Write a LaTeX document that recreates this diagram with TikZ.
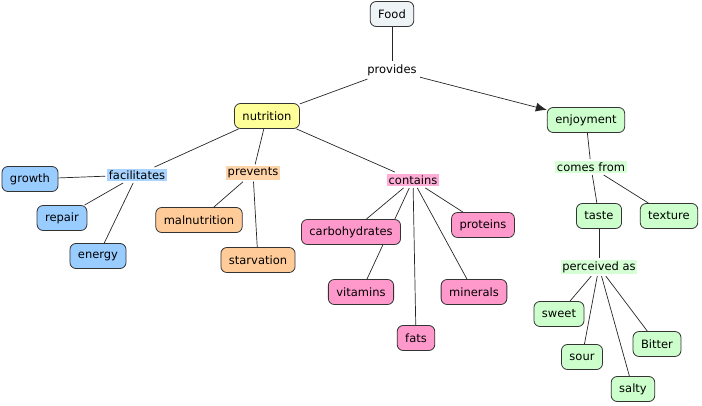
\documentclass[tikz,border=0pt]{standalone}
\usepackage{fontspec}
\setmainfont{DejaVu Sans}
\usetikzlibrary{backgrounds,arrows.meta}

\definecolor{foodgray}{HTML}{EEF3F5}
\definecolor{nutyellow}{HTML}{FFFF99}
\definecolor{factblue}{HTML}{99CCFF}
\definecolor{prevorange}{HTML}{FFCC99}
\definecolor{contpink}{HTML}{FF99CC}
\definecolor{joygreen}{HTML}{CCFFCC}

\tikzset{
  concept/.style={draw=black!80, rounded corners=6pt, inner xsep=8pt,
    minimum height=25pt, line width=0.8pt},
  linkword/.style={inner sep=1.5pt, outer sep=2pt},
  conn/.style={draw=black!85, line width=0.7pt}
}

\begin{document}
\begin{tikzpicture}[x=1pt, y=-1pt, font=\fontsize{11.5}{13}\selectfont]
  \useasboundingbox (0,0) rectangle (702,406);

  % concepts
  \node[concept, fill=foodgray] (food) at (392,14) {Food};
  \node[concept, fill=nutyellow] (nutrition) at (267,116) {nutrition};
  \node[concept, fill=joygreen] (enjoyment) at (586,120) {enjoyment};

  \node[concept, fill=factblue] (growth) at (30,179) {growth};
  \node[concept, fill=factblue] (repair) at (62,218) {repair};
  \node[concept, fill=factblue] (energy) at (98,256) {energy};

  \node[concept, fill=prevorange] (malnutrition) at (199,220) {malnutrition};
  \node[concept, fill=prevorange] (starvation) at (258,260) {starvation};

  \node[concept, fill=contpink] (carbohydrates) at (351,232) {carbohydrates};
  \node[concept, fill=contpink] (proteins) at (483,225) {proteins};
  \node[concept, fill=contpink] (vitamins) at (361,292) {vitamins};
  \node[concept, fill=contpink] (minerals) at (474,292) {minerals};
  \node[concept, fill=contpink] (fats) at (416,338) {fats};

  \node[concept, fill=joygreen] (taste) at (599,216) {taste};
  \node[concept, fill=joygreen] (texture) at (669,216) {texture};
  \node[concept, fill=joygreen] (sweet) at (559,314) {sweet};
  \node[concept, fill=joygreen] (sour) at (582,357) {sour};
  \node[concept, fill=joygreen] (bitter) at (657,344) {Bitter};
  \node[concept, fill=joygreen] (salty) at (633,389) {salty};

  % linking words
  \node[linkword] (provides) at (392,70) {provides};
  \node[linkword, fill=factblue!85] (facilitates) at (137,175) {facilitates};
  \node[linkword, fill=prevorange!85] (prevents) at (253,173) {prevents};
  \node[linkword, fill=contpink!80] (contains) at (413,180) {contains};
  \node[linkword, fill=joygreen!80] (comesfrom) at (591,167) {comes from};
  \node[linkword, fill=joygreen!80] (perceived) at (599,267) {perceived as};

  % connections
  \begin{pgfonlayer}{background}
    \draw[conn] (food) -- (provides);
    \draw[conn] (provides) -- (nutrition);
    \draw[conn, -{Latex[length=11pt, width=9pt]}] (provides) -- (enjoyment);
    \foreach \w in {facilitates, prevents, contains}
      \draw[conn] (nutrition) -- (\w);
    \foreach \c in {growth, repair, energy}
      \draw[conn] (facilitates) -- (\c);
    \foreach \c in {malnutrition, starvation}
      \draw[conn] (prevents) -- (\c);
    \foreach \c in {carbohydrates, vitamins, fats, minerals, proteins}
      \draw[conn] (contains) -- (\c);
    \draw[conn] (enjoyment) -- (comesfrom);
    \foreach \c in {taste, texture}
      \draw[conn] (comesfrom) -- (\c);
    \draw[conn] (taste) -- (perceived);
    \foreach \c in {sweet, sour, salty, bitter}
      \draw[conn] (perceived) -- (\c);
  \end{pgfonlayer}
\end{tikzpicture}
\end{document}
